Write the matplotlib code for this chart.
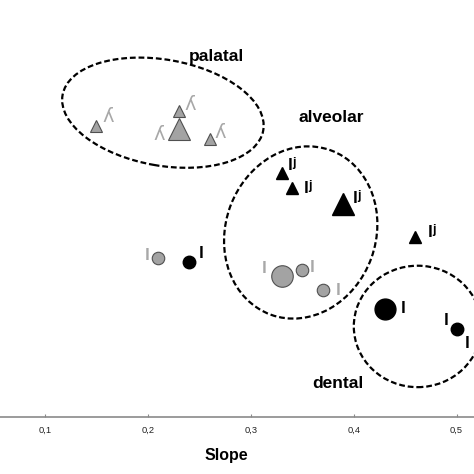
import matplotlib
matplotlib.use("Agg")
import matplotlib.pyplot as plt
from matplotlib.patches import Ellipse

plt.rcParams['font.family'] = ['Liberation Sans', 'DejaVu Sans']

# ---- data (Slope on x; vertical measure hidden) ----
palatal_x = [0.15, 0.23, 0.23, 0.26]
palatal_y = [0.283, 0.298, 0.280, 0.270]
palatal_big = [False, False, True, False]

alv_pal_x = [0.33, 0.34, 0.39, 0.46]
alv_pal_y = [0.237, 0.223, 0.207, 0.175]
alv_pal_big = [False, False, True, False]

gray_l_x = [0.21, 0.33, 0.35, 0.37]
gray_l_y = [0.155, 0.137, 0.143, 0.124]
gray_l_big = [False, True, False, False]

black_l_x = [0.24, 0.43, 0.50]
black_l_y = [0.151, 0.105, 0.086]
black_l_big = [False, True, False]

xticks = [0.1, 0.2, 0.3, 0.4, 0.5]
xtick_labels = ["0,1", "0,2", "0,3", "0,4", "0,5"]

# groups: (label, center x, center y, width, height, angle)
groups = [
    ("palatal", 0.2146, 0.296, 0.198, 0.103, -10),
    ("alveolar", 0.3485, 0.1796, 0.146, 0.170, -20),
    ("dental", 0.4621, 0.0883, 0.124, 0.118, 0),
]
group_label_pos = [(0.2665, 0.351), (0.3777, 0.291), (0.3845, 0.033)]

# label offsets in pixels (dx right, dy down) relative to marker
pal_off = [(11.5, -4), (11, -1), (-20, 11), (11, -1)]
alvpal_off = [(6, -3), (12, 5), (9, -1), (12, 0)]
grayl_off = [(-11, 2), (-17, -3.5), (9.5, 2), (15.5, 5)]
blackl_off = [[(12, -4)], [(19, 4)], [(-10, -4), (11, 19)]]

GRAY_FILL = "#a3a3a3"
GRAY_EDGE = "#505050"
GRAY_TXT = "#a8a8a8"
SMALL, BIG = 9, 15.5
FS = 12.5

fig = plt.figure(figsize=(4.74, 4.74), dpi=100)
ax = fig.add_axes([0, 0.1196, 1, 0.8804])
ax.set_xlim(0.0563, 0.5169)
ax.set_ylim(0, 0.4055)

PX = 0.72  # px -> points at 100 dpi


def lab(x, y, text, off, color, ha='center', fs=FS, family=None,
        weight='bold'):
    kw = {}
    if family:
        kw['family'] = family
    ax.annotate(text, (x, y), xytext=(off[0] * PX, -off[1] * PX),
                textcoords='offset points', ha=ha, va='baseline',
                fontsize=fs, fontweight=weight, color=color, **kw)


for x, y, b, o in zip(palatal_x, palatal_y, palatal_big, pal_off):
    ax.plot(x, y, marker='^', ms=BIG if b else SMALL, mfc=GRAY_FILL,
            mec=GRAY_EDGE, mew=0.8, ls='none')
    lab(x, y, "ʎ", o, GRAY_TXT, fs=14, family=['DejaVu Sans'],
        weight='normal')

for x, y, b, o in zip(alv_pal_x, alv_pal_y, alv_pal_big, alvpal_off):
    ax.plot(x, y, marker='^', ms=BIG if b else SMALL, mfc='black',
            mec='black', ls='none')
    ax.annotate("l", (x, y), xytext=(o[0] * PX, -o[1] * PX),
                textcoords='offset points', ha='left', va='baseline',
                fontsize=FS, fontweight='bold', color='black')
    ax.annotate("j", (x, y), xytext=((o[0] + 4.5) * PX, (-o[1] + 4) * PX),
                textcoords='offset points', ha='left', va='baseline',
                fontsize=9, fontweight='bold', color='black')

for x, y, b, o in zip(gray_l_x, gray_l_y, gray_l_big, grayl_off):
    ax.plot(x, y, marker='o', ms=BIG if b else SMALL, mfc=GRAY_FILL,
            mec=GRAY_EDGE, mew=0.8, ls='none')
    lab(x, y, "l", o, GRAY_TXT)

for x, y, b, offs in zip(black_l_x, black_l_y, black_l_big, blackl_off):
    ax.plot(x, y, marker='o', ms=BIG - 0.5 if b else SMALL, mfc='black',
            mec='black', ls='none')
    for o in offs:
        lab(x, y, "l", o, 'black')

for (name, cx, cy, w, h, ang), (tx, ty) in zip(groups, group_label_pos):
    ax.add_patch(Ellipse((cx, cy), w, h, angle=ang, fill=False,
                         ec='black', lw=1.6, ls=(0, (2.6, 1.3))))
    ax.text(tx, ty, name, ha='center', va='center', fontsize=12.5,
            fontweight='bold', color='black')

for s in ['top', 'left', 'right']:
    ax.spines[s].set_visible(False)
ax.spines['bottom'].set_color('#8a8a8a')
ax.spines['bottom'].set_linewidth(1.2)
ax.set_yticks([])
ax.set_xticks(xticks)
ax.set_xticklabels(xtick_labels, fontsize=6.7, color='#222222')
ax.tick_params(axis='x', direction='in', length=2.5, width=0.8,
               color='#8a8a8a', pad=6)
ax.set_xlabel("Slope", fontsize=11.5, fontweight='bold')
ax.xaxis.set_label_coords(226.5 / 474, (417.3 - 455) / 417.3)
ax.xaxis.label.set_va('center')

fig.savefig("out.png", dpi=100)
